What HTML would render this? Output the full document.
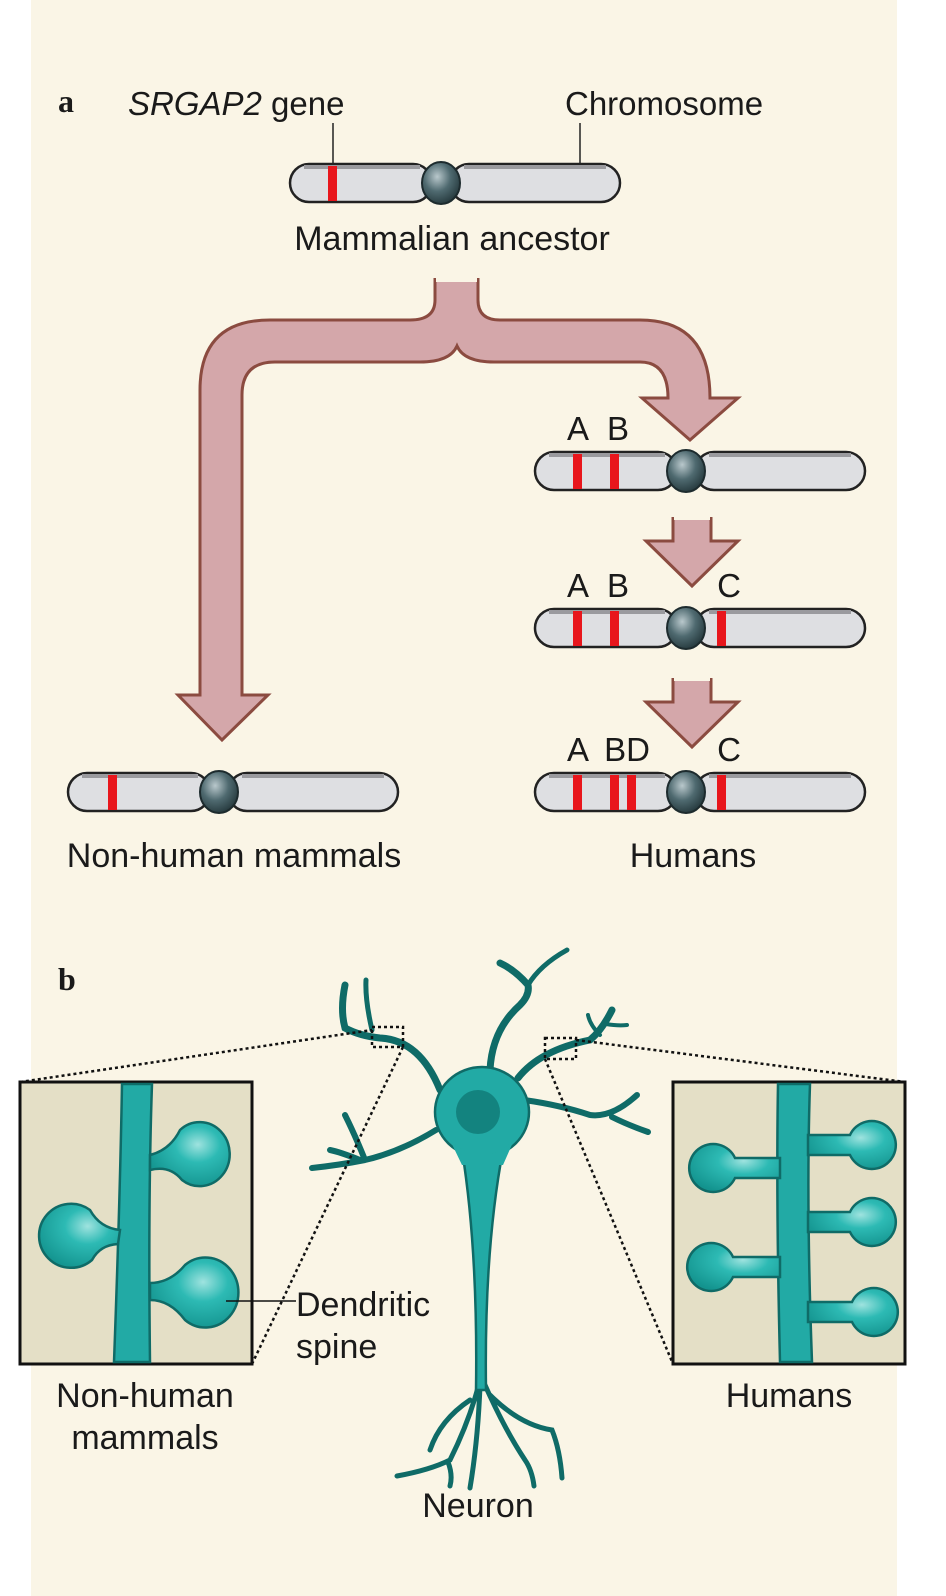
<!DOCTYPE html>
<html><head><meta charset="utf-8"><style>
html,body{margin:0;padding:0;background:#fff;overflow:hidden}
svg{display:block}
text{font-family:"Liberation Sans",sans-serif;fill:#1a1a1a}
</style></head><body>
<svg width="946" height="1596" viewBox="0 0 946 1596" xmlns="http://www.w3.org/2000/svg">
<defs>
<radialGradient id="cen" cx="0.4" cy="0.35" r="0.7"><stop offset="0" stop-color="#b9c8cc"/><stop offset="0.5" stop-color="#4f6a70"/><stop offset="1" stop-color="#23363a"/></radialGradient>
<radialGradient id="bulb" cx="0.6" cy="0.35" r="0.7"><stop offset="0" stop-color="#9fe3df"/><stop offset="0.4" stop-color="#2dbab4"/><stop offset="1" stop-color="#13938e"/></radialGradient>
<g id="chr">
<rect x="0" y="0" width="142" height="38" rx="19" fill="#dedfe2" stroke="#222" stroke-width="2.5"/>
<rect x="160" y="0" width="170" height="38" rx="19" fill="#dedfe2" stroke="#222" stroke-width="2.5"/>
<path d="M14 3 H130" stroke="#9a9a9e" stroke-width="4"/>
<path d="M174 3 H316" stroke="#9a9a9e" stroke-width="4"/>
<ellipse cx="151" cy="19" rx="19" ry="21" fill="url(#cen)" stroke="#1d2b2e" stroke-width="2"/>
</g>
</defs>
<rect x="31" y="0" width="866" height="1596" fill="#faf5e6"/>

<!-- Part a -->
<text x="58" y="112" font-size="32" font-weight="bold" style="font-family:'Liberation Serif',serif">a</text>
<text x="128" y="115" font-size="33"><tspan font-style="italic">SRGAP2</tspan> gene</text>
<text x="565" y="115" font-size="33">Chromosome</text>
<line x1="333" y1="123" x2="333" y2="167" stroke="#222" stroke-width="1.5"/>
<line x1="580" y1="123" x2="580" y2="186" stroke="#222" stroke-width="1.5"/>

<use href="#chr" x="290" y="164"/>
<rect x="328" y="166" width="9" height="35" fill="#e8161c"/>
<text x="452" y="250" font-size="34" text-anchor="middle">Mammalian ancestor</text>

<path d="M435 278 L435 300 Q435 320 410 320 L270 320 Q200 320 200 390 L200 695 L178 695 L222 740 L268 695 L242 695 L242 395 Q242 362 275 362 L420 362 Q450 362 457 346 Q464 362 494 362 L640 362 Q668 362 668 398 L642 398 L690 440 L738 398 L710 398 Q710 320 640 320 L500 320 Q478 320 478 300 L478 278" fill="#d4a7aa" stroke="#8b4b40" stroke-width="3"/>
<rect x="436" y="270" width="41" height="12" fill="#faf5e6"/>

<path d="M673 517 L673 541 L646 541 L692 586 L738 541 L711 541 L711 517" fill="#d4a7aa" stroke="#8b4b40" stroke-width="3"/>
<rect x="674" y="512" width="36" height="8" fill="#faf5e6"/>
<path d="M673 678 L673 702 L646 702 L692 747 L738 702 L711 702 L711 678" fill="#d4a7aa" stroke="#8b4b40" stroke-width="3"/>
<rect x="674" y="673" width="36" height="8" fill="#faf5e6"/>

<text x="578" y="440" font-size="33" text-anchor="middle">A</text>
<text x="618" y="440" font-size="33" text-anchor="middle">B</text>
<use href="#chr" x="535" y="452"/>
<rect x="573" y="454" width="9" height="35" fill="#e8161c"/>
<rect x="610" y="454" width="9" height="35" fill="#e8161c"/>

<text x="578" y="597" font-size="33" text-anchor="middle">A</text>
<text x="618" y="597" font-size="33" text-anchor="middle">B</text>
<text x="729" y="597" font-size="33" text-anchor="middle">C</text>
<use href="#chr" x="535" y="609"/>
<rect x="573" y="611" width="9" height="35" fill="#e8161c"/>
<rect x="610" y="611" width="9" height="35" fill="#e8161c"/>
<rect x="717" y="611" width="9" height="35" fill="#e8161c"/>

<text x="578" y="761" font-size="33" text-anchor="middle">A</text>
<text x="627" y="761" font-size="33" text-anchor="middle">BD</text>
<text x="729" y="761" font-size="33" text-anchor="middle">C</text>
<use href="#chr" x="535" y="773"/>
<rect x="573" y="775" width="9" height="35" fill="#e8161c"/>
<rect x="610" y="775" width="9" height="35" fill="#e8161c"/>
<rect x="627" y="775" width="9" height="35" fill="#e8161c"/>
<rect x="717" y="775" width="9" height="35" fill="#e8161c"/>

<use href="#chr" x="68" y="773"/>
<rect x="108" y="775" width="9" height="35" fill="#e8161c"/>

<text x="234" y="867" font-size="34" text-anchor="middle">Non-human mammals</text>
<text x="693" y="867" font-size="34" text-anchor="middle">Humans</text>

<!-- Part b -->
<text x="58" y="990" font-size="32" font-weight="bold" style="font-family:'Liberation Serif',serif">b</text>

<!-- neuron -->
<g fill="none" stroke="#0f6b67" stroke-linecap="round">
<path d="M440 1090 Q420 1040 380 1038 Q360 1036 345 1028 Q340 1010 345 985" stroke-width="7"/>
<path d="M372 1030 Q365 1000 366 980" stroke-width="5"/>
<path d="M490 1070 Q492 1030 520 1005 Q530 995 528 985 Q515 970 500 963" stroke-width="7"/>
<path d="M528 985 Q540 965 567 950" stroke-width="5"/>
<path d="M518 1078 Q540 1050 590 1040 Q602 1030 612 1010" stroke-width="7"/>
<path d="M600 1035 Q590 1025 588 1015 M606 1024 Q618 1026 627 1025" stroke-width="4"/>
<path d="M524 1100 Q560 1105 590 1115 Q612 1118 637 1095 M612 1117 Q628 1125 648 1132" stroke-width="6"/>
<path d="M436 1130 Q400 1152 365 1160 Q340 1165 312 1168 M365 1160 Q355 1135 345 1115 M360 1160 Q340 1152 330 1150" stroke-width="6"/>
<path d="M480 1380 Q470 1420 450 1460 Q430 1470 397 1476 M448 1462 Q453 1475 450 1486 M480 1385 Q478 1440 470 1488 M485 1385 Q505 1430 525 1460 Q532 1470 534 1486 M490 1395 Q520 1425 552 1430 Q560 1450 562 1478 M470 1400 Q440 1420 430 1450" stroke-width="5"/>
</g>
<path d="M462 1150 Q478 1250 476 1390 L486 1390 Q484 1250 503 1150 Z" fill="#22aaa5" stroke="#0f6b67" stroke-width="2.5"/>
<ellipse cx="482" cy="1112" rx="47" ry="45" fill="#22aaa5" stroke="#0f6b67" stroke-width="2.5"/>
<path d="M450 1140 Q482 1170 514 1140 L503 1165 L462 1165 Z" fill="#22aaa5"/>
<circle cx="478" cy="1112" r="22" fill="#13837f"/>

<!-- dotted zoom -->
<g fill="none" stroke="#111" stroke-width="2.5" stroke-dasharray="3 3">
<rect x="372" y="1027" width="31" height="20"/>
<rect x="545" y="1038" width="31" height="21"/>
<line x1="20" y1="1082" x2="372" y2="1030"/>
<line x1="252" y1="1364" x2="403" y2="1047"/>
<line x1="576" y1="1040" x2="905" y2="1082"/>
<line x1="545" y1="1059" x2="673" y2="1364"/>
</g>

<!-- left box -->
<rect x="20" y="1082" width="232" height="282" fill="#e4dfc6" stroke="#111" stroke-width="3"/>
<g stroke="#0f6b67" stroke-width="2.5" fill="#22aaa5">
<path d="M122 1084 L152 1084 Q148 1200 150 1362 L114 1362 Q120 1200 122 1084 Z"/>
<path d="M150 1155 Q170 1150 180 1130 A30 32 0 1 1 182 1180 Q170 1165 150 1170 Z" fill="url(#bulb)"/>
<path d="M120 1230 Q100 1228 90 1210 A32 32 0 1 0 92 1260 Q100 1245 118 1244 Z" fill="url(#bulb)"/>
<path d="M150 1283 Q170 1283 185 1265 A33 35 0 1 1 185 1320 Q170 1300 150 1300 Z" fill="url(#bulb)"/>
</g>
<line x1="226" y1="1301" x2="296" y2="1301" stroke="#111" stroke-width="1.5"/>

<!-- right box -->
<rect x="673" y="1082" width="232" height="282" fill="#e4dfc6" stroke="#111" stroke-width="3"/>
<g stroke="#0f6b67" stroke-width="2.5" fill="#22aaa5">
<path d="M778 1084 L810 1084 Q806 1200 812 1362 L780 1362 Q776 1200 778 1084 Z"/>
<path d="M808 1135 L850 1135 A24 24 0 1 1 850 1155 L808 1155 Z" fill="url(#bulb)"/>
<path d="M808 1212 L850 1212 A24 24 0 1 1 850 1232 L808 1232 Z" fill="url(#bulb)"/>
<path d="M808 1302 L852 1302 A24 24 0 1 1 852 1322 L808 1322 Z" fill="url(#bulb)"/>
<path d="M780 1158 L735 1158 A24 24 0 1 0 735 1178 L780 1178 Z" fill="url(#bulb)"/>
<path d="M780 1257 L733 1257 A24 24 0 1 0 733 1277 L780 1277 Z" fill="url(#bulb)"/>
</g>

<text x="296" y="1316" font-size="34">Dendritic</text>
<text x="296" y="1358" font-size="34">spine</text>
<text x="145" y="1407" font-size="34" text-anchor="middle">Non-human</text>
<text x="145" y="1449" font-size="34" text-anchor="middle">mammals</text>
<text x="789" y="1407" font-size="34" text-anchor="middle">Humans</text>
<text x="478" y="1517" font-size="34" text-anchor="middle">Neuron</text>
</svg>
</body></html>
